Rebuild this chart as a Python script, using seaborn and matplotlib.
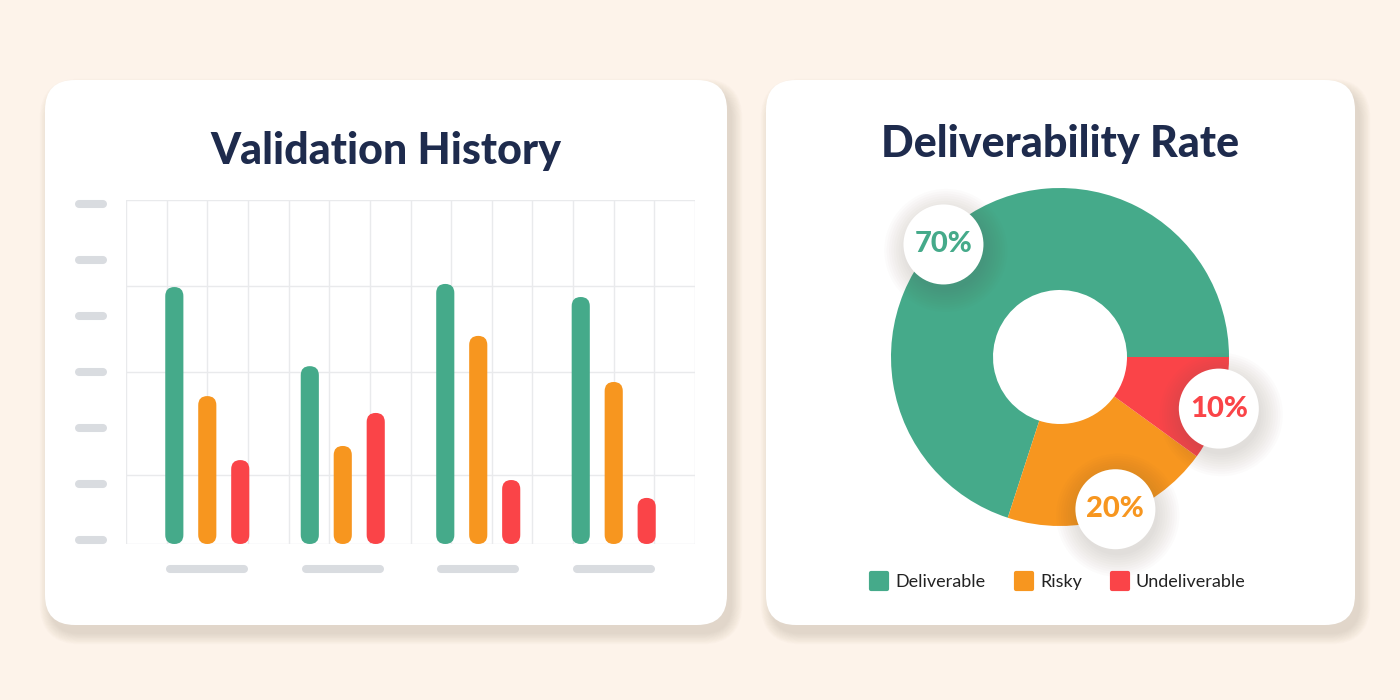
import numpy as np
import pandas as pd
import matplotlib
matplotlib.use("Agg")
import matplotlib.pyplot as plt
import seaborn as sns
from matplotlib.patches import FancyBboxPatch, Circle
from matplotlib.lines import Line2D
from matplotlib.markers import MarkerStyle
import matplotlib.transforms as mtransforms

# ---------------- data ----------------
groups = ["Period 1", "Period 2", "Period 3", "Period 4"]
series = ["Deliverable", "Risky", "Undeliverable"]
deliverable = [74.7, 51.7, 75.6, 71.8]
risky = [43.0, 28.5, 60.5, 47.1]
undeliverable = [24.4, 38.1, 18.6, 13.4]
y_grid = [0, 20, 50, 75, 100]

rate_labels = ["Deliverable", "Risky", "Undeliverable"]
rate_values = [70, 20, 10]
rate_texts = ["70%", "20%", "10%"]

bar_title = "Validation History"
pie_title = "Deliverability Rate"

# ---------------- style ----------------
palette = {"Deliverable": "#45AA8A", "Risky": "#F7961F", "Undeliverable": "#FA4448"}
BG = "#FDF3EA"
NAVY = "#1E2B4D"
PILL = "#D9DCE0"
GRID = "#E9EAEC"

sns.set_theme(style="white")
plt.rcParams['font.family'] = ['Lato', 'DejaVu Sans']

W, H = 1400, 700
fig = plt.figure(figsize=(14, 7), dpi=100)
fig.patch.set_facecolor(BG)

bg = fig.add_axes([0, 0, 1, 1], zorder=0)
bg.set_xlim(0, W)
bg.set_ylim(H, 0)
bg.axis("off")


def card(x0, y0, x1, y1):
    # soft shadow
    n = 14
    for k in range(n):
        g = k * 1.6
        bg.add_patch(FancyBboxPatch((x0 + 5 - g / 2, y0 + 9 - g / 2), (x1 - x0) + g, (y1 - y0) + g,
                                    boxstyle="round,pad=0,rounding_size=%f" % (30 + g / 2),
                                    facecolor="#B89C8A", edgecolor="none", alpha=0.022, zorder=1))
    bg.add_patch(FancyBboxPatch((x0, y0), x1 - x0, y1 - y0,
                                boxstyle="round,pad=0,rounding_size=30",
                                facecolor="white", edgecolor="none", zorder=2))


card(45, 80, 727, 625)
card(766, 80, 1355, 625)

bg.text(386, 151, bar_title, ha="center", va="center", fontsize=31, fontweight="black", color=NAVY, zorder=3)
bg.text(1060, 144, pie_title, ha="center", va="center", fontsize=31, fontweight="black", color=NAVY, zorder=3)

# ---------------- bar chart ----------------
df = pd.DataFrame({
    "group": np.repeat(groups, len(series)),
    "series": series * len(groups),
    "value": np.ravel(np.column_stack([deliverable, risky, undeliverable])),
})

ax_l, ax_b, ax_w, ax_h = 126, 544, 569, 344  # pixels
ax = fig.add_axes([ax_l / W, (H - ax_b) / H, ax_w / W, ax_h / H], zorder=3)
ax.patch.set_alpha(0)
sns.barplot(data=df, x="group", y="value", hue="series", hue_order=series, palette=palette,
            width=0.73, gap=0.45, saturation=1, ax=ax, legend=False, errorbar=None)

xlim = (-0.6, 3.6)
ylim = (0, 100)
ax.set_xlim(*xlim)
ax.set_ylim(*ylim)
ax.set_xticks(np.arange(xlim[0], xlim[1] + 1e-6, 0.3))
ax.set_yticks(y_grid)
ax.set_xticklabels([])
ax.set_yticklabels([])
ax.tick_params(length=0)
ax.set_xlabel("")
ax.set_ylabel("")
ax.grid(True, color=GRID, linewidth=1)
ax.set_axisbelow(True)
for s in ax.spines.values():
    s.set_visible(False)

# replace bars with rounded ones (pill shaped)
px_x = ax_w / (xlim[1] - xlim[0])
px_y = ax_h / (ylim[1] - ylim[0])
bars = list(ax.patches)
for p in bars:
    x, y = p.get_x(), p.get_y()
    w, h = p.get_width(), p.get_height()
    c = p.get_facecolor()
    p.remove()
    ax.add_patch(FancyBboxPatch((x, y), w, h,
                                boxstyle="round,pad=0,rounding_size=%f" % (w / 2),
                                mutation_aspect=px_x / px_y,
                                facecolor=c, edgecolor="none", zorder=3))

# placeholder pill labels
ytick_pills = np.linspace(1.2, 98.8, 7)
trans_y = mtransforms.blended_transform_factory(ax.transAxes, ax.transData)
for yv in ytick_pills:
    ax.plot([-0.0826, -0.0404], [yv, yv], transform=trans_y, color=PILL, lw=5.8,
            solid_capstyle="round", clip_on=False)
trans_x = mtransforms.blended_transform_factory(ax.transData, ax.transAxes)
for i in range(len(groups)):
    ax.plot([i - 0.273, i + 0.273], [-0.0727, -0.0727], transform=trans_x, color=PILL, lw=5.8,
            solid_capstyle="round", clip_on=False)

# ---------------- donut ----------------
pcx, pcy, half = 1060, 357, 200
pax = fig.add_axes([(pcx - half) / W, (H - pcy - half) / H, 2 * half / W, 2 * half / H], zorder=3)
pax.patch.set_alpha(0)
R = 169 / half
wedges, _ = pax.pie(rate_values, colors=[palette[k] for k in rate_labels], startangle=0,
                    radius=R, wedgeprops=dict(width=(169 - 67) / half, linewidth=0))
pax.set_xlim(-1, 1)
pax.set_ylim(-1, 1)
pax.set_aspect("equal")
pax.axis("off")

label_angle_shift = [10, 2, 0]
label_radius = [0.81, 0.81, 0.835]
cr = 40 / half
for wdg, txt, shift, lr, name in zip(wedges, rate_texts, label_angle_shift, label_radius, rate_labels):
    ang = np.deg2rad((wdg.theta1 + wdg.theta2) / 2 + shift)
    lx, ly = lr * np.cos(ang), lr * np.sin(ang)
    for k in range(10):
        pax.add_patch(Circle((lx + 0.012, ly - 0.03), cr + k * 0.012, facecolor="#6B5B50",
                             edgecolor="none", alpha=0.018, zorder=4, clip_on=False))
    pax.add_patch(Circle((lx, ly), cr, facecolor="white", edgecolor="none", zorder=5, clip_on=False))
    pax.text(lx, ly, txt, ha="center", va="center", fontsize=21, fontweight="black",
             color=palette[name], zorder=6)

handles = [Line2D([], [], linestyle="none", marker=MarkerStyle("s", joinstyle="round"),
                  markersize=11, markeredgewidth=3, markerfacecolor=palette[k],
                  markeredgecolor=palette[k], label=k) for k in rate_labels]
fig.legend(handles=handles, loc="center", bbox_to_anchor=(1058 / W, (H - 582) / H), ncol=3,
           frameon=False, fontsize=13, handlelength=1.0, handletextpad=0.4, columnspacing=1.6,
           labelcolor="#222222")

fig.savefig("out.png", dpi=100, facecolor=BG)
